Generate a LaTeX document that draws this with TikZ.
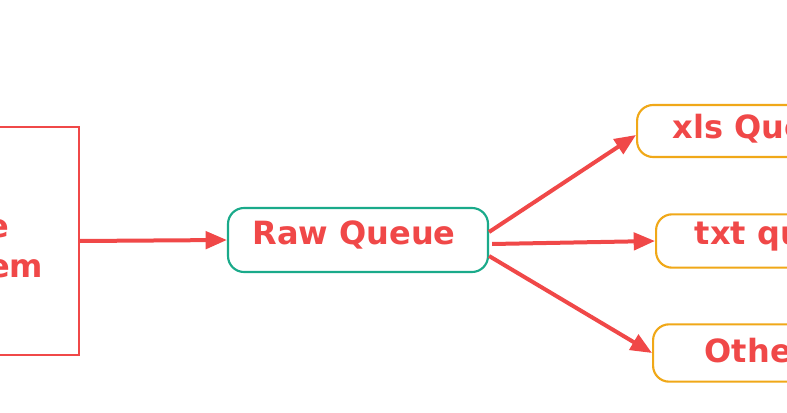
\documentclass[tikz,border=0pt]{standalone}
\usepackage{fontspec}
\setmainfont{DejaVu Sans}
\usetikzlibrary{arrows.meta}
\definecolor{rd}{HTML}{F04848}
\definecolor{tl}{HTML}{1AAA8A}
\definecolor{og}{HTML}{F0A818}
\tikzset{
 box/.style={draw=#1,line width=1.6pt,rounded corners=12pt,fill=white},
 lbl/.style={text=rd,font=\bfseries\fontsize{24}{30}\selectfont,align=center},
 conn/.style={draw=rd,line width=3pt,-{Triangle[length=16pt,width=13pt]}}
}
\begin{document}
\begin{tikzpicture}[x=0.75pt,y=-0.75pt]
\useasboundingbox (0,0) rectangle (787,413);
\clip (0,0) rectangle (787,413);
\node[draw=rd,line width=1.4pt,fill=white,minimum width=240pt,minimum height=171pt,anchor=east] (fs) at (80,241) {};
\node[lbl,anchor=east] (fst) at (48,249) {File\\System};
\node[box=tl,minimum width=195pt,minimum height=48pt] (raw) at (358,240) {};
\node[lbl] at (354,235) {Raw Queue};
\node[box=og,minimum width=200pt,minimum height=39pt,anchor=west] (xls) at (636,131) {};
\node[lbl,anchor=west] at (668,129) {xls Queue};
\node[box=og,minimum width=200pt,minimum height=40pt,anchor=west] (txt) at (655,241) {};
\node[lbl,anchor=west] at (690,237) {txt queue};
\node[box=og,minimum width=200pt,minimum height=43pt,anchor=west] (oth) at (652,353) {};
\node[lbl,anchor=west] at (700,351) {Others};
\draw[conn] (fs.east) -- (raw.west);
\draw[conn] (raw.east)++(0,-8) -- (xls.west|-0,135);
\draw[conn] (raw.east)++(3,4) -- (txt.west);
\draw[conn] (raw.east)++(0,16) -- (oth.west);
\end{tikzpicture}
\end{document}
